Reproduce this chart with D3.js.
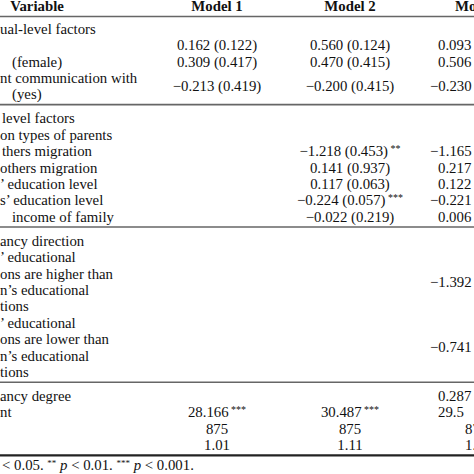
<!DOCTYPE html>
<html><head><meta charset="utf-8">
<script src="https://cdn.jsdelivr.net/npm/d3@7"></script>
<style>body{margin:0;background:#fff}svg{display:block}text{font-family:"Liberation Serif",serif;font-size:14.8px;fill:#111}</style>
</head><body><svg id="t" width="474" height="474"></svg>
<script>
// table content (left part of the table is cropped in the source)
var headers = ["Variable", "Model 1", "Model 2", "Model 3"];
// sections of rows: label lines, model 1, model 2, model 3 (visible part)
var sec1Labels = [["ual-level factors"], [""], ["(female)"], ["nt communication with", "(yes)"]];
var sec1M1 = ["", "0.162 (0.122)", "0.309 (0.417)", "\u22120.213 (0.419)"];
var sec1M2 = ["", "0.560 (0.124)", "0.470 (0.415)", "\u22120.200 (0.415)"];
var sec1M3 = ["", "0.093", "0.506", "\u22120.230"];
var sec2Labels = [["level factors"], ["on types of parents"], ["thers migration"], ["others migration"], ["\u2019 education level"], ["s\u2019 education level"], ["income of family"]];
var sec2M1 = ["", "", "", "", "", "", ""];
var sec2M2 = ["", "", "\u22121.218 (0.453) **", "0.141 (0.937)", "0.117 (0.063)", "\u22120.224 (0.057) ***", "\u22120.022 (0.219)"];
var sec2M3 = ["", "", "\u22121.165", "0.217", "0.122", "\u22120.221 (", "0.006"];
var sec3Labels = [["ancy direction"], ["\u2019 educational", "ons are higher than", "n\u2019s educational", "tions"], ["\u2019 educational", "ons are lower than", "n\u2019s educational", "tions"]];
var sec3M1 = ["", "", ""];
var sec3M2 = ["", "", ""];
var sec3M3 = ["", "\u22121.392", "\u22120.741"];
var sec4Labels = [["ancy degree"], ["nt"], [""], [""]];
var sec4M1 = ["", "28.166 ***", "875", "1.01"];
var sec4M2 = ["", "30.487 ***", "875", "1.11"];
var sec4M3 = ["0.287 (", "29.5", "875", "1."];
var labelIndent = {"(female)": 12, "(yes)": 12, "income of family": 12, "thers migration": 2, "level factors": 2};

var sections = [
  [sec1Labels, sec1M1, sec1M2, sec1M3],
  [sec2Labels, sec2M1, sec2M2, sec2M3],
  [sec3Labels, sec3M1, sec3M2, sec3M3],
  [sec4Labels, sec4M1, sec4M2, sec4M3]
];

var svg = d3.select("#t");
var lineH = 16.4;
var colX = d3.scaleOrdinal().domain(headers).range([37, 217, 350, 438]);

function writeVal(sel, str, x, y, anchor) {
  var m = str.match(/^(.*?)(\s\*+)$/);
  var t = sel.append("text").attr("x", x).attr("y", y).attr("text-anchor", anchor);
  t.append("tspan").text(m ? m[1] : str);
  if (m) t.append("tspan").attr("font-size", 10).attr("dy", -4).text(m[2]);
}

// header
headers.forEach(function(h, i) {
  svg.append("text").attr("x", i == 3 ? 455 : colX(h)).attr("y", 11)
    .attr("text-anchor", i == 3 ? "start" : "middle").attr("font-weight", "bold").text(h);
});
svg.append("line").attr("x1", 0).attr("x2", 474).attr("y1", 16.5).attr("y2", 16.5).attr("stroke", "#666").attr("stroke-width", 1.6);

var y = 29;
sections.forEach(function(s, si) {
  var labels = s[0];
  labels.forEach(function(lines, r) {
    var top = y;
    lines.forEach(function(l) {
      svg.append("text").attr("x", labelIndent[l] || 0).attr("y", y + 4.8).text(l);
      y += lineH;
    });
    var mid = (top + y - lineH) / 2 + 4.8;
    if (s[1][r]) writeVal(svg, s[1][r], colX("Model 1"), mid, "middle");
    if (s[2][r]) writeVal(svg, s[2][r], colX("Model 2"), mid, "middle");
    var v3 = s[3][r];
    if (v3) {
      var x3 = colX("Model 3");
      if (v3[0] == "\u2212") x3 -= 8;
      if (v3.length <= 3) x3 = 465;
      writeVal(svg, v3, x3, mid, "start");
    }
  });
  var ly = y - lineH + 10;
  var last = si == sections.length - 1;
  svg.append("line").attr("x1", 0).attr("x2", 474).attr("y1", ly).attr("y2", ly)
    .attr("stroke", last ? "#222" : "#666").attr("stroke-width", last ? 2.2 : 1.6);
  y = ly + 14;
});

// footnote
var fn = svg.append("text").attr("x", 2).attr("y", 470).attr("font-size", 13);
fn.append("tspan").text("< 0.05. ");
fn.append("tspan").attr("font-size", 9).attr("dy", -4).text("**");
fn.append("tspan").attr("dy", 4).text(" ");
fn.append("tspan").attr("font-style", "italic").text("p");
fn.append("tspan").text(" < 0.01. ");
fn.append("tspan").attr("font-size", 9).attr("dy", -4).text("***");
fn.append("tspan").attr("dy", 4).text(" ");
fn.append("tspan").attr("font-style", "italic").text("p");
fn.append("tspan").text(" < 0.001.");
</script></body></html>
